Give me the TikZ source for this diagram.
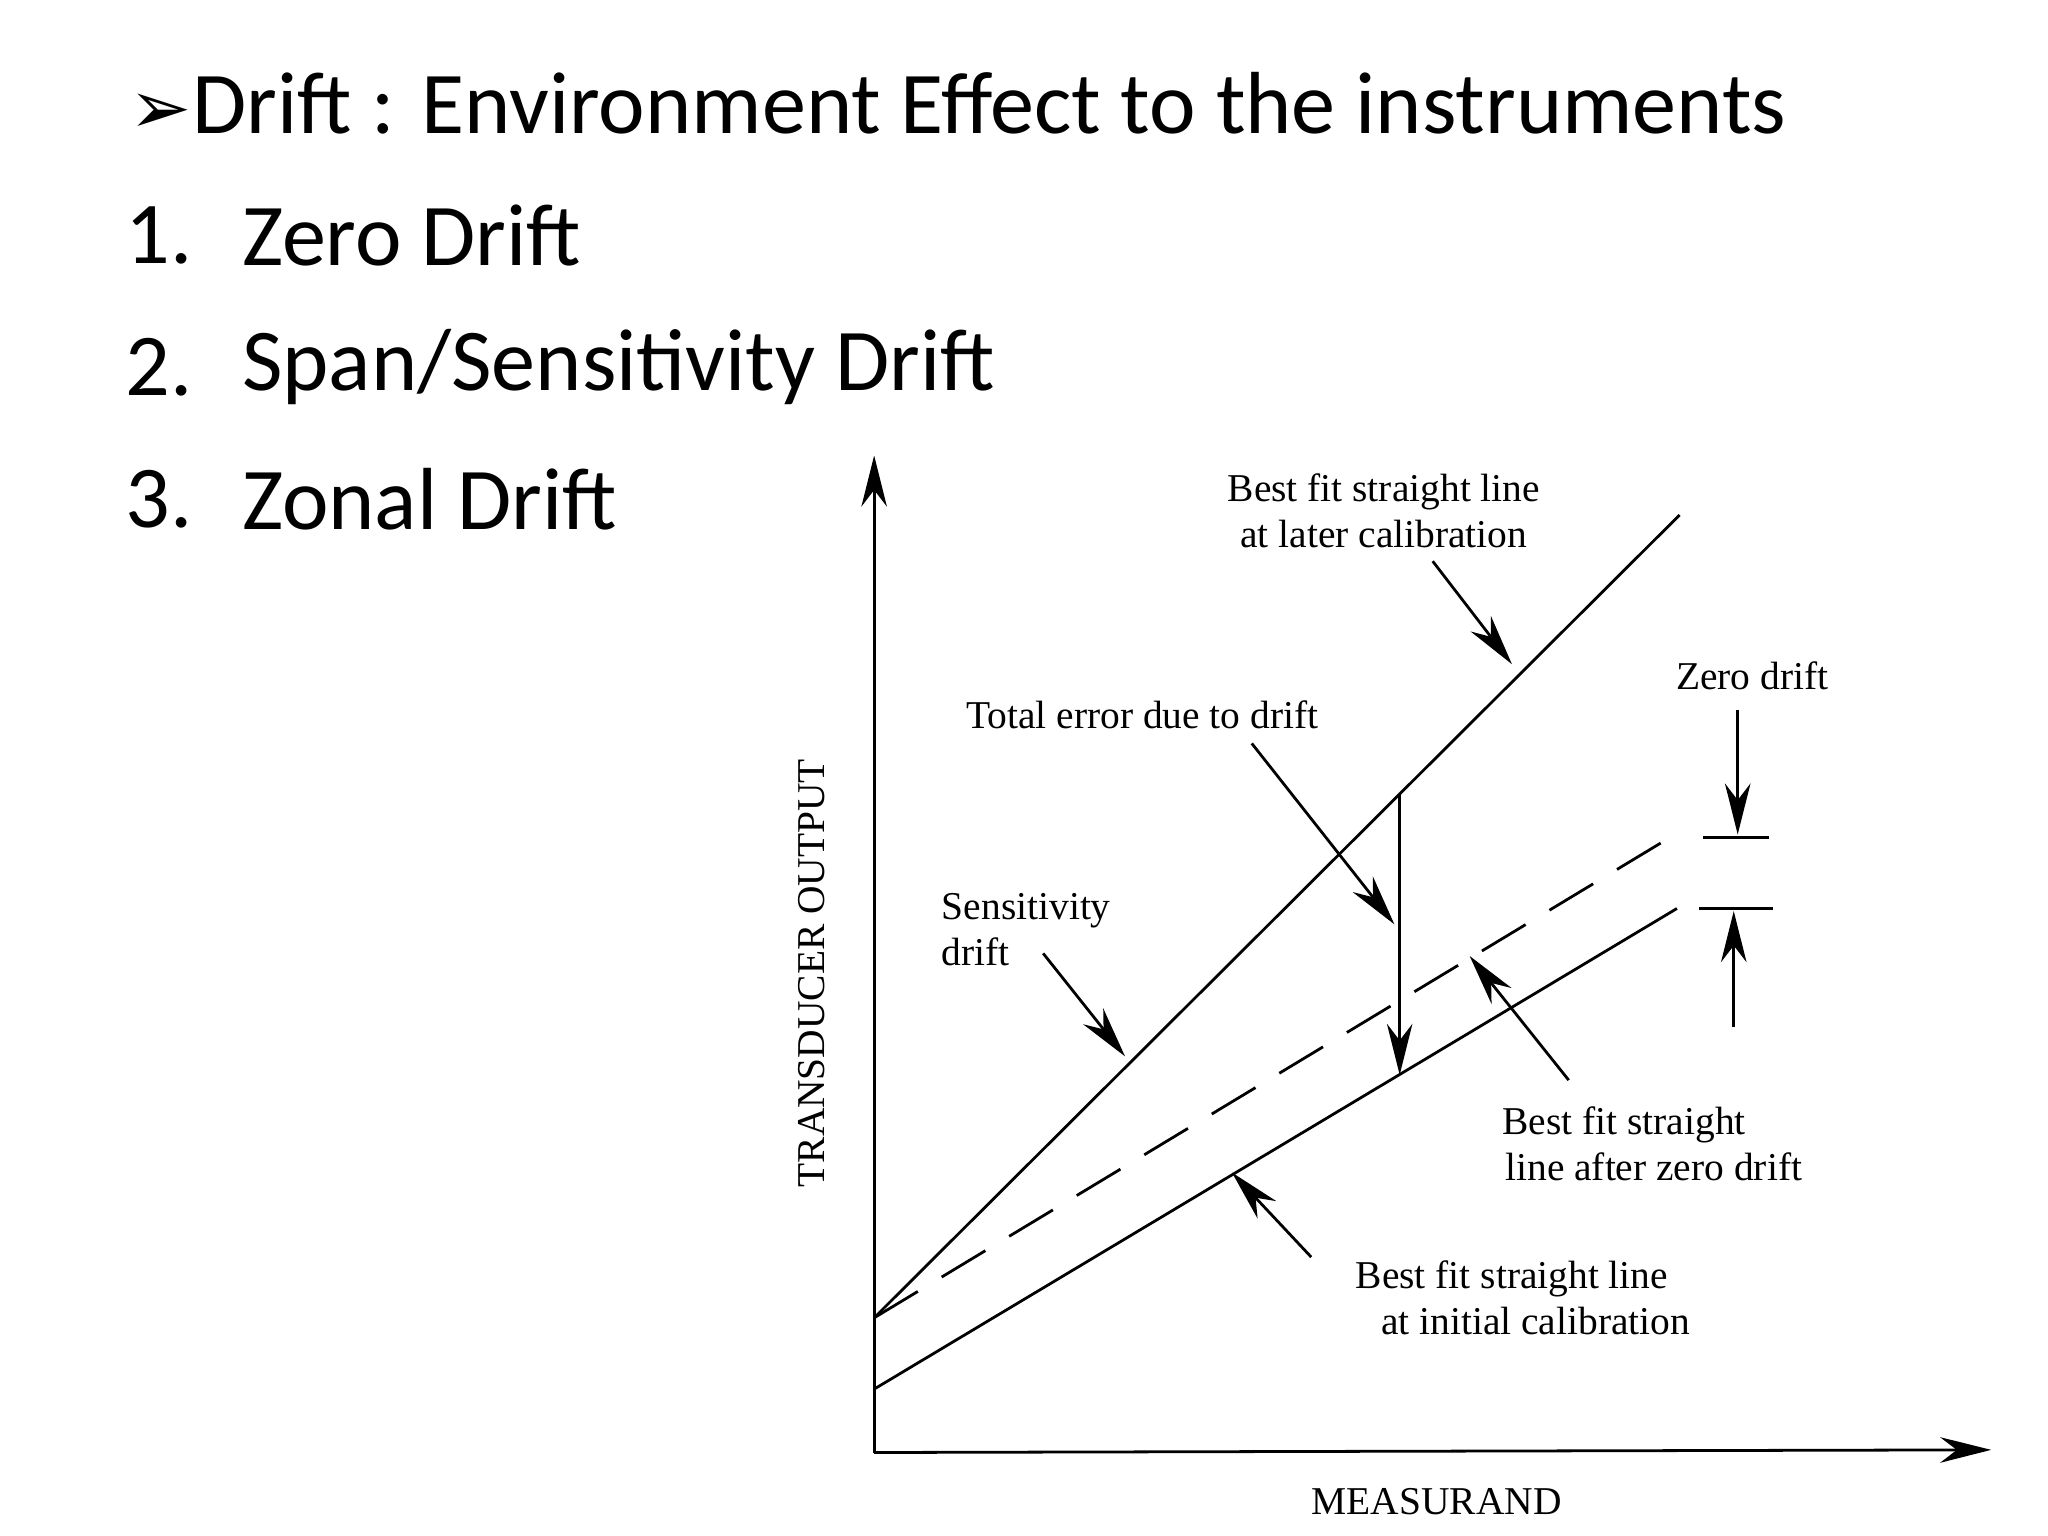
\documentclass[tikz,border=0pt]{standalone}
\usepackage{fontspec}
\setmainfont{Carlito}
\newfontfamily\serf{Liberation Serif}
\newfontfamily\dejavu{DejaVu Sans}
\usetikzlibrary{arrows.meta}
\begin{document}
\begin{tikzpicture}[x=0.02cm,y=-0.02cm,
  ln/.style={line width=1.2pt},
  arr/.style={line width=1.2pt,-{Stealth[length=22pt,width=11pt]}},
  lbl/.style={font=\serf\fontsize{17}{20}\selectfont,align=center,inner sep=0},
  ttl/.style={font=\fontsize{38}{44}\selectfont,anchor=west,inner sep=0}]
\useasboundingbox (0,0) rectangle (1551,1163);
% title
\node[ttl] (t0) at (98,78) {{\dejavu\fontsize{32}{40}\selectfont ➢}Drift : Environment Effect to the instruments};
\node[ttl] (n1) at (95,178) {1.};\node[ttl] (t1) at (183,178) {Zero Drift};
\node[ttl] (n2) at (95,278) {2.};\node[ttl] (t2) at (183,278) {Span/Sensitivity Drift};
\node[ttl] (n3) at (95,378) {3.};\node[ttl] (t3) at (183,378) {Zonal Drift};
% axes
\coordinate (O) at (662,1100);
\coordinate (Y) at (662,345);
\coordinate (X) at (1508,1098);
\draw[arr] (O) -- (Y);
\draw[arr] (O) -- (X);
% lines
\coordinate (i0) at (662,1052); \coordinate (i1) at (1270,688);
\coordinate (d0) at (662,998); \coordinate (d1) at (1275,628);
\coordinate (l1) at (1272,390);
\draw[ln] (i0) -- (i1);
\draw[ln,dash pattern=on 22pt off 12pt] (d0) -- (d1);
\draw[ln] (d0) -- (l1);
\coordinate (e0) at (1060,601); \coordinate (e1) at (1060,814);
\draw[arr] (e0) -- (e1);
% zero drift marks
\coordinate (z1a) at (1290,634); \coordinate (z1b) at (1340,634);
\coordinate (z2a) at (1287,688); \coordinate (z2b) at (1343,688);
\draw[ln] (z1a) -- (z1b); \draw[ln] (z2a) -- (z2b);
\coordinate (za0) at (1316,538); \coordinate (za1) at (1316,632);
\coordinate (zb0) at (1313,778); \coordinate (zb1) at (1313,690);
\draw[arr] (za0) -- (za1); \draw[arr] (zb0) -- (zb1);
% labels
\node[lbl] (L1) at (1048,387) {Best fit straight line\\at later calibration};
\coordinate (a1s) at (1085,425); \coordinate (a1e) at (1145,503);
\draw[arr] (a1s) -- (a1e);
\node[lbl] (L2) at (1327,512) {Zero drift};
\node[lbl] (L3) at (865,541) {Total error due to drift};
\coordinate (a3s) at (948,563); \coordinate (a3e) at (1056,700);
\draw[arr] (a3s) -- (a3e);
\node[lbl,align=left,anchor=west] (L4) at (713,704) {Sensitivity\\drift};
\coordinate (a4s) at (790,722); \coordinate (a4e) at (852,800);
\draw[arr] (a4s) -- (a4e);
\node[lbl] (L5) at (1230,866) {Best fit straight\\\hspace*{1.5em}line after zero drift};
\coordinate (a5s) at (1188,818); \coordinate (a5e) at (1113,724);
\draw[arr] (a5s) -- (a5e);
\node[lbl] (L6) at (1145,983) {Best fit straight line\\\hspace*{1.2em}at initial calibration};
\coordinate (a6s) at (993,952); \coordinate (a6e) at (933,888);
\draw[arr] (a6s) -- (a6e);
\node[lbl,rotate=90] (YL) at (615,737) {TRANSDUCER OUTPUT};
\node[lbl] (XL) at (1088,1137) {MEASURAND};
\end{tikzpicture}
\end{document}
